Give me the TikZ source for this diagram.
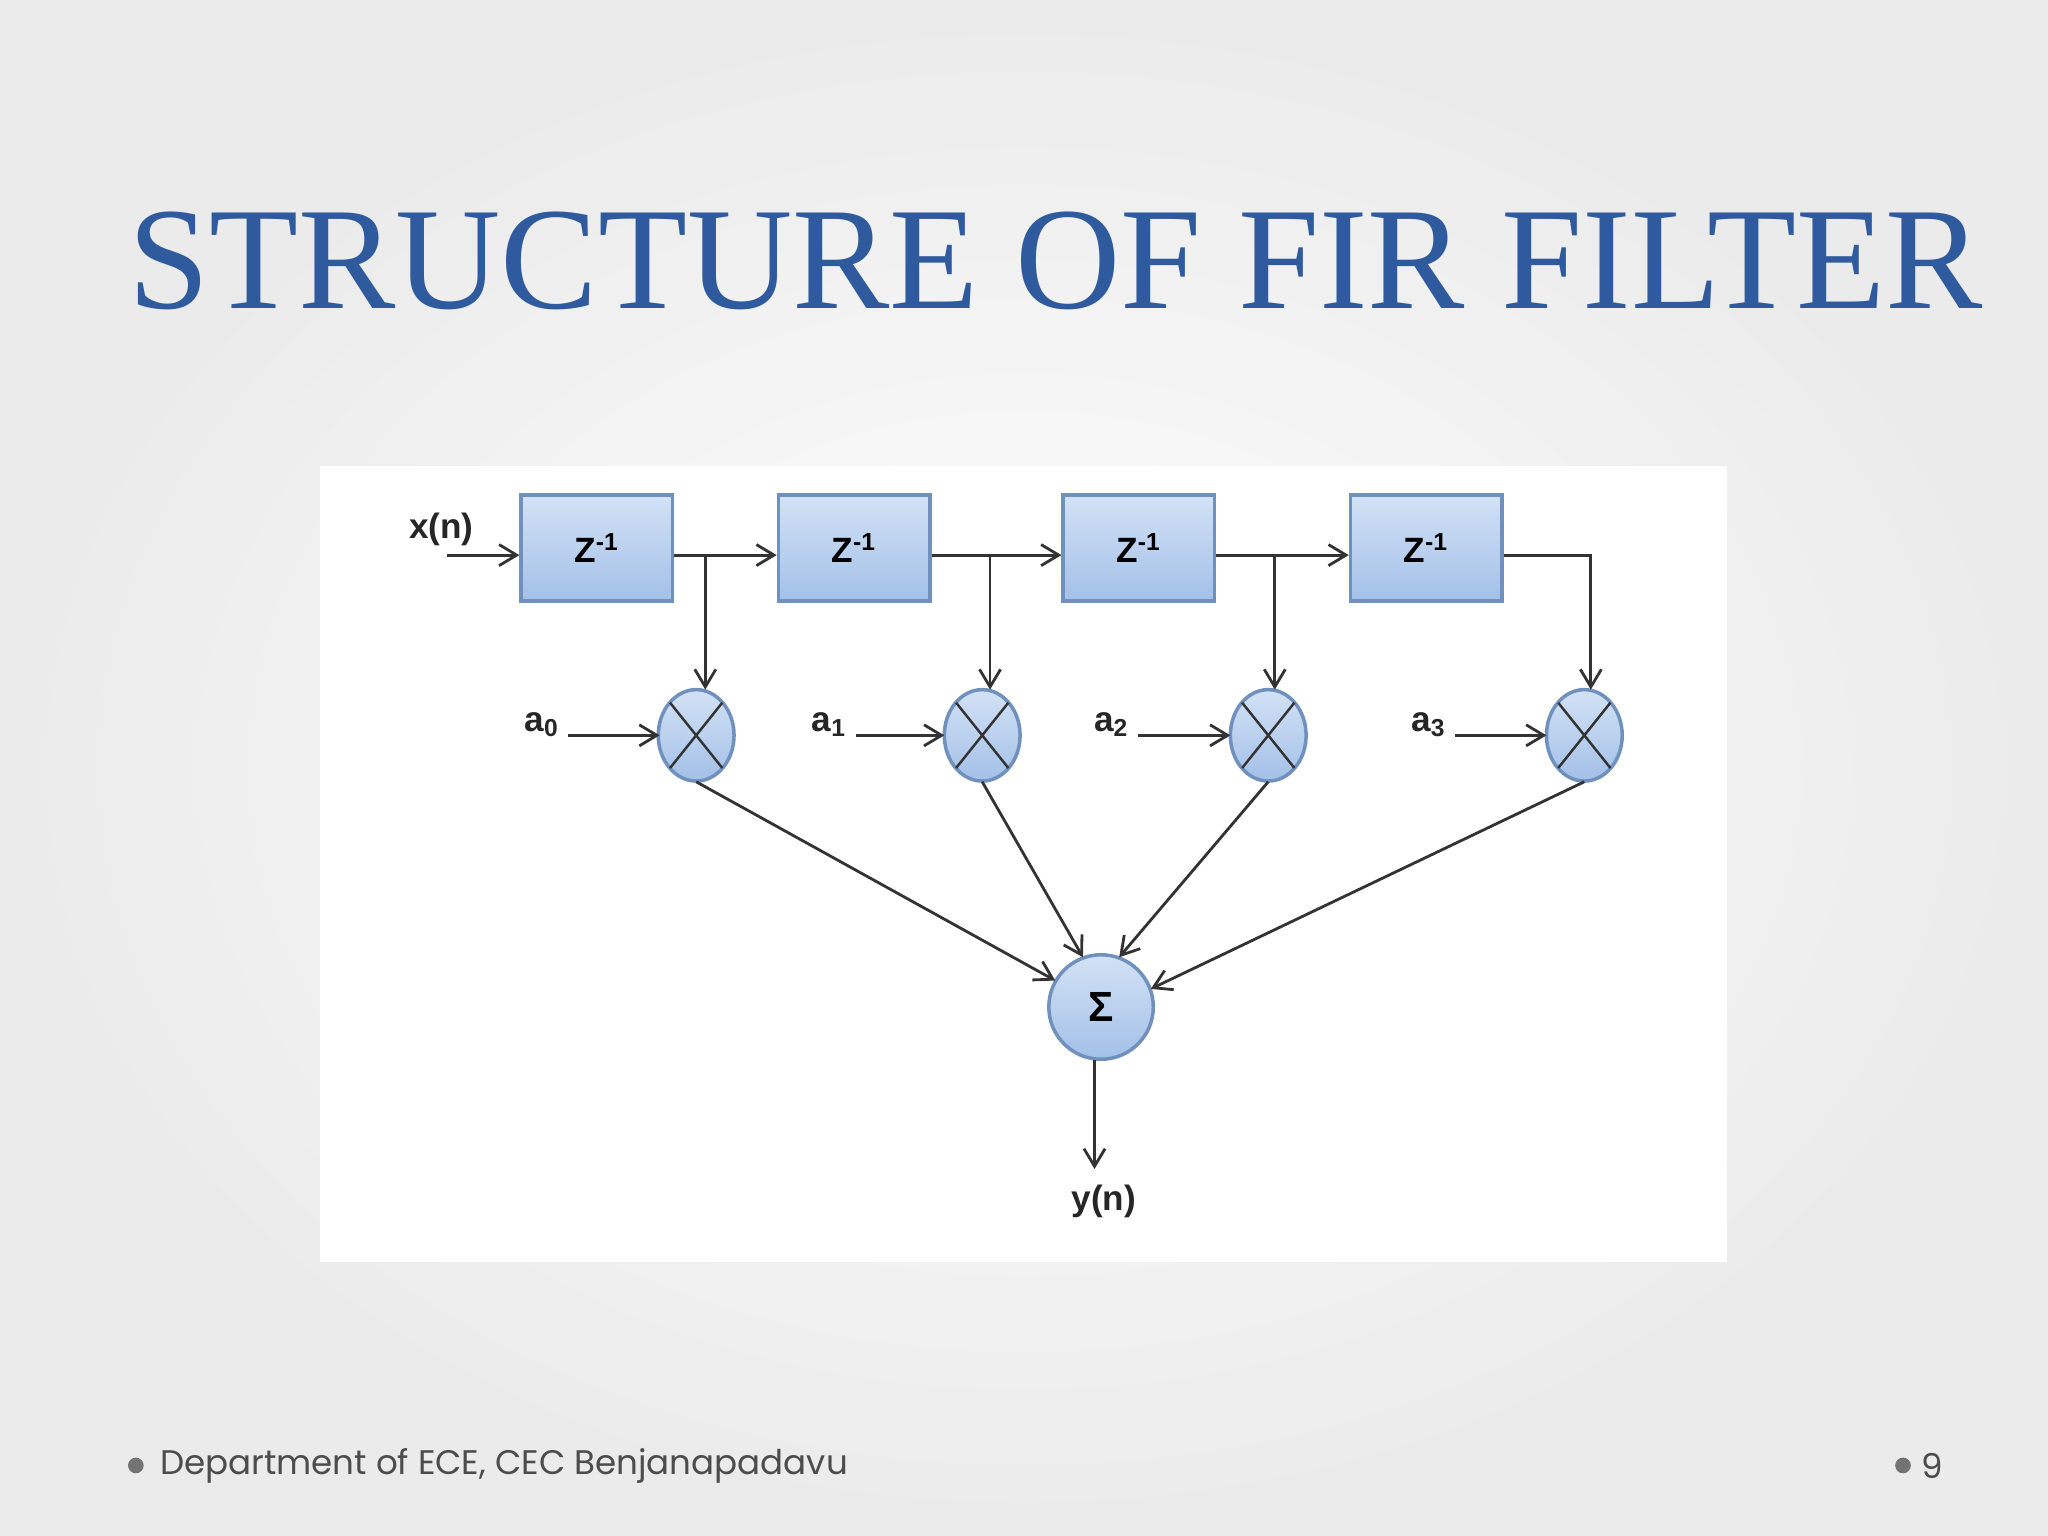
\documentclass[tikz,border=0pt]{standalone}
\usepackage{fontspec}
\setmainfont{Liberation Serif}
\setsansfont{Liberation Sans}
\newfontfamily\footfont{Poppins}
\usetikzlibrary{arrows.meta}
\definecolor{titleblue}{HTML}{2F5B9E}
\definecolor{boxtop}{HTML}{D3E2F5}
\definecolor{boxbot}{HTML}{A3C0E8}
\definecolor{boxedge}{HTML}{7090BE}
\newlength{\ux}\setlength{\ux}{0.01306cm}
\tikzset{
 zbox/.style={draw=boxedge,line width=1pt,top color=boxtop,bottom color=boxbot,minimum width=116\ux,minimum height=81\ux,font=\sffamily\bfseries\fontsize{10}{12}\selectfont},
 wire/.style={draw=black!80,line width=0.8pt,-{Straight Barb[length=5pt,width=6pt]}},
 lbl/.style={font=\sffamily\bfseries\fontsize{10}{12}\selectfont,text=black!85},
}
\begin{document}
\begin{tikzpicture}[x=0.01306cm,y=-0.01306cm]
\useasboundingbox (0,0) rectangle (1568,1176);
\shade[inner color=white,outer color=black!8] (0,0) rectangle (1568,1176);
\fill[white] (245,357) rectangle (1322,966);
\node[text=titleblue,font=\fontsize{41.5}{48}\selectfont] (title) at (808,200) {STRUCTURE OF FIR FILTER};
% boxes
\foreach \i/\x in {1/457,2/654,3/872,4/1092}{
  \node[zbox] (z\i) at (\x,419.5) {Z\textsuperscript{-1}};
}
% multipliers
\foreach \i/\x in {0/533,1/752,2/971,3/1213}{
  \path[draw=boxedge,line width=1pt,top color=boxtop,bottom color=boxbot] (\x,563) ellipse (29 and 35);
  \node[minimum width=58\ux,minimum height=70\ux,inner sep=0] (m\i) at (\x,563) {};
  \draw[black!80,line width=0.7pt] (\x-20,538) -- (\x+20,588) (\x-20,588) -- (\x+20,538);
}
\path[draw=boxedge,line width=1pt,top color=boxtop,bottom color=boxbot] (843,771) circle (40);
\node[circle,minimum size=80\ux,inner sep=0,font=\sffamily\bfseries\fontsize{12}{14}\selectfont] (sum) at (843,771) {Σ};
% input
\node[lbl] (xn) at (338,405) {x(n)};
\coordinate (xin) at (342,425);
\draw[wire] (xin) -- (xin -| z1.west);
\coordinate (t0) at (540,425);
\coordinate (t1) at (758,425);
\coordinate (t2) at (976,425);
\coordinate (t3) at (1218,425);
\draw[wire] (z1.east |- t0) -- (z2.west |- t0);
\draw[wire] (z2.east |- t0) -- (z3.west |- t0);
\draw[wire] (z3.east |- t0) -- (z4.west |- t0);
\draw[wire] (t0) -- (540,528);
\draw[wire] (t1) -- (758,528);
\draw[wire] (t2) -- (976,528);
\draw[wire] (z4.east |- t3) -- (t3) -- (1218,528);
% coefficients
\foreach \i/\x/\e in {0/415/505,1/635/723,2/851/942,3/1094/1184}{
  \node[lbl] (a\i) at (\x,555) {a\textsubscript{\i}};
  \draw[wire] (\x+20,563) -- (\e,563);
}
\draw[wire] (m0.south) -- (sum.150);
\draw[wire] (m1.south) -- (sum.110);
\draw[wire] (m2.south) -- (sum.70);
\draw[wire] (m3.south) -- (sum.20);
\node[lbl] (yn) at (845,920) {y(n)};
\coordinate (yout) at (838,895);
\draw[wire] (yout |- sum.south) -- (yout);
% footer
\fill[black!55] (104,1122) circle (6);
\node[anchor=west,font=\footfont\fontsize{9.7}{12}\selectfont,text=black!70] (foot) at (113,1122) {Department of ECE, CEC Benjanapadavu};
\fill[black!55] (1457,1122) circle (6);
\node[anchor=west,font=\footfont\fontsize{9.7}{12}\selectfont,text=black!70] (pg) at (1462,1122) {9};
\end{tikzpicture}
\end{document}
